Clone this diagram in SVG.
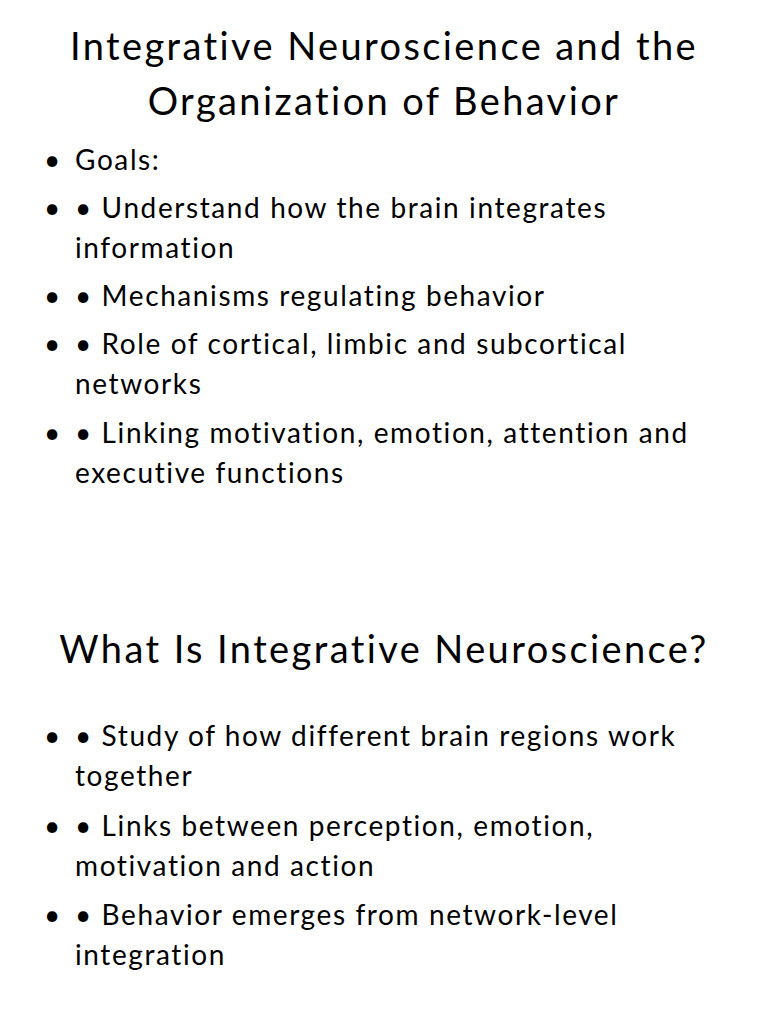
<svg xmlns="http://www.w3.org/2000/svg" width="768" height="1024" viewBox="0 0 768 1024">
<style>
.t{font-family:Lato,"Open Sans",sans-serif;font-size:38px;fill:#000;text-anchor:middle;letter-spacing:2.4px}
.b{font-family:Lato,"Open Sans",sans-serif;font-size:28px;fill:#000;letter-spacing:1.6px}
</style>
<rect width="768" height="1024" fill="#fff"/>
<g id="title1">
<text class="t" x="384" y="60">Integrative Neuroscience and the</text>
<text class="t" x="384" y="115">Organization of Behavior</text>
</g>
<g id="bullets1" class="b">
<text x="44" y="170">•</text><text x="75" y="170">Goals:</text>
<text x="44" y="218">•</text><text x="75" y="218">• Understand how the brain integrates</text>
<text x="75" y="258">information</text>
<text x="44" y="306">•</text><text x="75" y="306">• Mechanisms regulating behavior</text>
<text x="44" y="354">•</text><text x="75" y="354">• Role of cortical, limbic and subcortical</text>
<text x="75" y="394">networks</text>
<text x="44" y="443">•</text><text x="75" y="443">• Linking motivation, emotion, attention and</text>
<text x="75" y="483">executive functions</text>
</g>
<g id="title2">
<text class="t" x="384" y="663">What Is Integrative Neuroscience?</text>
</g>
<g id="bullets2" class="b">
<text x="44" y="746">•</text><text x="75" y="746">• Study of how different brain regions work</text>
<text x="75" y="786">together</text>
<text x="44" y="836">•</text><text x="75" y="836">• Links between perception, emotion,</text>
<text x="75" y="876">motivation and action</text>
<text x="44" y="925">•</text><text x="75" y="925">• Behavior emerges from network-level</text>
<text x="75" y="965">integration</text>
</g>
</svg>
